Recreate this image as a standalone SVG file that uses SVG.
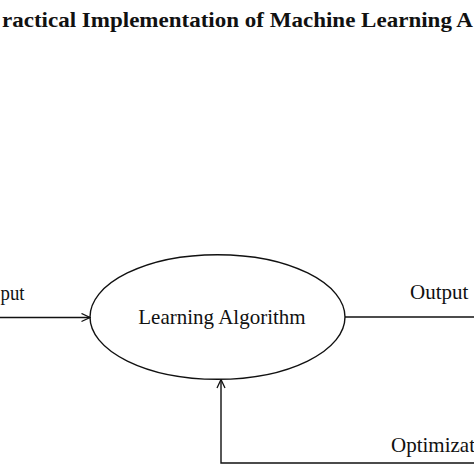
<svg xmlns="http://www.w3.org/2000/svg" width="474" height="474" viewBox="0 0 474 474">
<style>
.t{font-family:"Liberation Serif","Times New Roman",serif;fill:#111;}
.title{font-weight:bold;font-size:22px;}
.lbl{font-size:21px;}
.ln{fill:none;stroke:#111;stroke-width:1.4;}
</style>
<defs>
<marker id="ah" viewBox="0 0 10 10" refX="9.5" refY="5" markerWidth="10" markerHeight="10" markerUnits="userSpaceOnUse" orient="auto">
<path d="M1,1 L9.5,5 L1,9" fill="none" stroke="#111" stroke-width="1.3"/>
</marker>
</defs>
<rect width="474" height="474" fill="#fff"/>
<text class="t title" x="2" y="27" textLength="471" lengthAdjust="spacingAndGlyphs">ractical Implementation of Machine Learning A</text>
<g id="connectors">
<line class="ln" x1="0" y1="317.5" x2="90" y2="317.5" marker-end="url(#ah)"/>
<line class="ln" x1="345" y1="317" x2="474" y2="317"/>
<polyline class="ln" points="474,463 221,463 221,379.5" marker-end="url(#ah)"/>
</g>
<g id="input-label"><text class="t lbl" x="0.5" y="300" textLength="24" lengthAdjust="spacingAndGlyphs">put</text></g>
<g id="learning-algorithm">
<ellipse class="ln" cx="217.5" cy="317" rx="127.5" ry="62.3"/>
<text class="t lbl" x="222" y="324" text-anchor="middle">Learning Algorithm</text>
</g>
<g id="output-label"><text class="t lbl" x="410" y="299">Output</text></g>
<g id="optimization-label"><text class="t lbl" x="391" y="452">Optimizat</text></g>
</svg>
